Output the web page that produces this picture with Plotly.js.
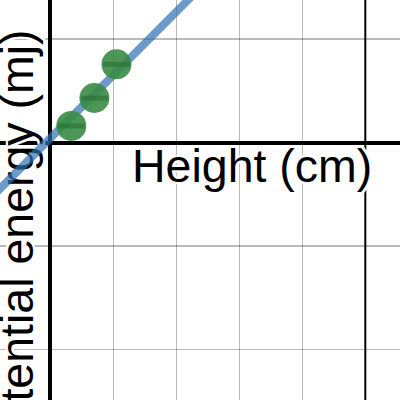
<!DOCTYPE html>
<html>
<head>
<meta charset="utf-8">
<script src="https://cdn.plot.ly/plotly-3.0.1.min.js"></script>
<style>
  html, body { margin: 0; padding: 0; background: #ffffff; }
  #myDiv { width: 400px; height: 400px; }
</style>
</head>
<body>
<div id="myDiv"></div>
<script>
// measured points
var heightCm = [1.0, 2.1, 3.15];
var energyMj = [1.6, 4.3, 7.55];

// fitted line (two ends)
var fitHeight = [-3, 8];
var fitEnergy = [-5.7, 16.7];

// vertical marker line
var limitHeight = [15, 15];
var limitEnergy = [-30, 20];

var xLabel = 'Height (cm)';
var yLabel = 'Potential energy (mj)';

var halo = 'white 2px 0px 0px, white -2px 0px 0px, white 0px 2px 0px, white 0px -2px 0px, ' +
           'white 2px 2px 0px, white -2px -2px 0px, white 2px -2px 0px, white -2px 2px 0px';

var traceLimit = { x: limitHeight, y: limitEnergy,
                   mode: 'lines', showlegend: false, hoverinfo: 'skip',
                   line: { color: '#000000', width: 2 },
                   type: 'scatter' };
var traceFit = { x: fitHeight, y: fitEnergy,
                 mode: 'lines', showlegend: false,
                 line: { color: 'rgba(45,112,179,0.7)', width: 8 },
                 type: 'scatter' };
var tracePts = { x: heightCm, y: energyMj,
                 mode: 'markers', showlegend: false,
                 marker: { size: 30, color: 'rgba(56,140,70,0.9)', line: { width: 0 } },
                 type: 'scatter' };
var traceDash = { x: heightCm, y: energyMj,
                  mode: 'markers', showlegend: false, hoverinfo: 'skip',
                  marker: { symbol: 'line-ew', size: 19, color: 'rgba(40,110,50,0.6)',
                            line: { width: 5, color: 'rgba(40,110,50,0.6)' } },
                  type: 'scatter' };

var data = [traceLimit, traceFit, tracePts, traceDash];

var axisStyle = {
    showgrid: true,
    gridcolor: 'rgba(0,0,0,0.27)',
    gridwidth: 1.4,
    zeroline: true,
    zerolinecolor: '#000000',
    zerolinewidth: 4,
    showline: false,
    ticks: '',
    showticklabels: false,
    fixedrange: true
};

var layout = {
    width: 400,
    height: 400,
    margin: { l: 0, r: 0, t: 0, b: 0 },
    paper_bgcolor: '#ffffff',
    plot_bgcolor: '#ffffff',
    font: { family: 'Liberation Sans, Arial, sans-serif', color: '#000000' },
    xaxis: Object.assign({ range: [-2.395, 16.652], tick0: 0, dtick: 3 }, axisStyle),
    yaxis: Object.assign({ range: [-24.88, 13.77], tick0: 0, dtick: 10 }, axisStyle),
    annotations: [
      { text: xLabel, showarrow: false, xref: 'paper', yref: 'paper',
        x: 251.5 / 400, y: 1 - 166 / 400, xanchor: 'center', yanchor: 'middle',
        font: { size: 46.5, color: '#000000', shadow: halo } }
    ],
    shapes: [
      { type: 'rect', layer: 'between', xref: 'x', yref: 'y',
        x0: -2.395, x1: -1.2, y0: -18.8, y1: -0.8,
        line: { width: 0 }, fillcolor: 'rgba(0,0,0,0)',
        label: { text: yLabel, textangle: -90, textposition: 'middle center',
                 font: { size: 46.5, color: '#000000', shadow: halo } } }
    ]
};

var config = { displayModeBar: false, staticPlot: true };

Plotly.newPlot('myDiv', data, layout, config);
</script>
</body>
</html>
